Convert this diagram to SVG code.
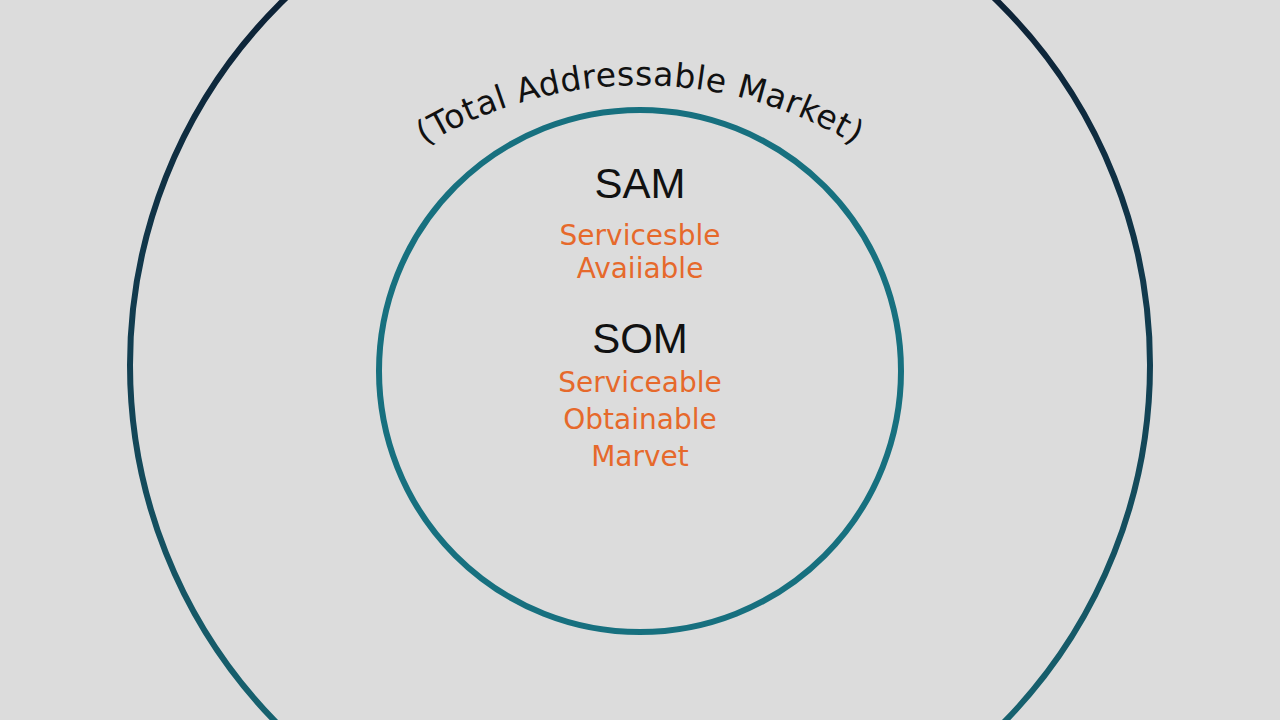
<svg xmlns="http://www.w3.org/2000/svg" width="1280" height="720" viewBox="0 0 1280 720">
  <defs>
    <linearGradient id="outerGrad" gradientUnits="userSpaceOnUse" x1="0" y1="0" x2="0" y2="720">
      <stop offset="0" stop-color="#0d2236"/>
      <stop offset="0.5" stop-color="#123f52"/>
      <stop offset="1" stop-color="#17626f"/>
    </linearGradient>
    <path id="tamArc" d="M 279 293.5 A 417 417 0 0 1 1001 293.5"/>
    <style>
      .title { font-family: "Liberation Sans", Arial, sans-serif; font-size: 42px; fill: #111111; text-anchor: middle; }
      .sub { font-family: "DejaVu Sans", "Liberation Sans", sans-serif; font-size: 28px; fill: #e6692b; text-anchor: middle; }
      .arc { font-family: "DejaVu Sans", "Liberation Sans", sans-serif; font-size: 33px; fill: #111111; letter-spacing: 0.5px; }
    </style>
  </defs>
  <rect width="1280" height="720" fill="#dcdcdc"/>
  <g id="tam">
    <circle cx="640" cy="365" r="510" fill="none" stroke="url(#outerGrad)" stroke-width="6"/>
    <text class="arc"><textPath href="#tamArc" startOffset="50%" text-anchor="middle">(Total Addressable Market)</textPath></text>
  </g>
  <g id="sam">
    <circle cx="640" cy="371" r="261" fill="none" stroke="#17707f" stroke-width="6"/>
    <text class="title" x="640" y="198">SAM</text>
    <text class="sub" x="640" y="245">Servicesble</text>
    <text class="sub" x="640" y="278">Avaiiable</text>
  </g>
  <g id="som">
    <text class="title" x="640" y="353">SOM</text>
    <text class="sub" x="640" y="392">Serviceable</text>
    <text class="sub" x="640" y="429">Obtainable</text>
    <text class="sub" x="640" y="466">Marvet</text>
  </g>
</svg>
